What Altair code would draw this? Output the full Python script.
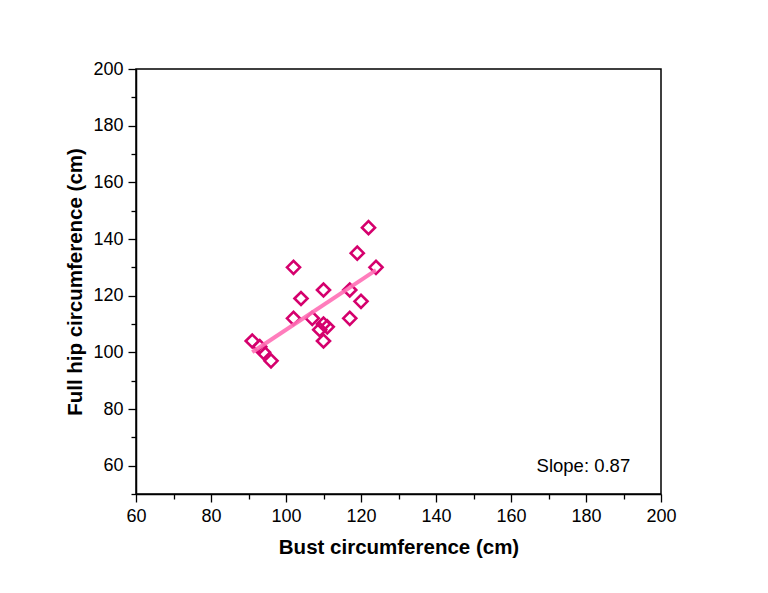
import altair as alt
import pandas as pd

bust = [122, 119, 102, 124, 110, 117, 104, 120, 102, 117, 107, 110, 109, 111, 110, 91, 93, 94, 96]
hip = [144, 135, 130, 130, 122, 122, 119, 118, 112, 112, 112, 110, 108, 109, 104, 104, 102, 100, 97]
x_ticks = list(range(60, 201, 10))
y_ticks = list(range(50, 201, 10))

df = pd.DataFrame({"bust": bust, "hip": hip})

FONT = "Liberation Sans"
xs = alt.Scale(domain=[60, 200], nice=False, zero=False)
ys = alt.Scale(domain=[50, 200], nice=False, zero=False)

common = dict(
    tickSize={"condition": {"test": "datum.value % 20 == 0", "value": 8}, "value": 5},
    tickCount=100,
    tickWidth=1.3, labelFontSize=18, titleFontSize=20.5, labelPadding=5,
    domainColor="black", tickColor="black", labelColor="black", titleColor="black",
    grid=False, domainWidth=1.5, labelFont=FONT, titleFont=FONT,
    labelOverlap=False, labelFlush=False,
    labelExpr="datum.value % 20 == 0 && datum.value >= 60 ? datum.label : ''",
)

base = alt.Chart(df)

points = base.mark_point(shape="diamond", size=170, strokeWidth=2.6, color="#D5006D", filled=False, opacity=1).encode(
    x=alt.X("bust:Q", scale=xs, title="Bust circumference (cm)",
            axis=alt.Axis(values=x_ticks, titlePadding=12, **common)),
    y=alt.Y("hip:Q", scale=ys, title="Full hip circumference (cm)",
            axis=alt.Axis(values=y_ticks, titlePadding=7, **common)),
)

line = base.transform_regression("bust", "hip").mark_line(color="#FF6FB5", strokeWidth=4, opacity=0.9).encode(
    x=alt.X("bust:Q", scale=xs), y=alt.Y("hip:Q", scale=ys)
)

label = alt.Chart(pd.DataFrame({"x": [179.3], "y": [60], "t": ["Slope: 0.87"]})).mark_text(
    fontSize=18.5, font=FONT, color="black", align="center", baseline="middle"
).encode(x=alt.X("x:Q", scale=xs), y=alt.Y("y:Q", scale=ys), text="t:N")

chart = alt.layer(points, line, label).properties(
    width=525, height=425,
    autosize=alt.AutoSizeParams(type="none"),
    padding={"left": 136, "top": 69, "right": 107, "bottom": 99},
    background="white",
).configure_view(stroke="black", strokeWidth=1.5)

chart.save("out.html", embed_options={"renderer": "svg", "actions": False})
